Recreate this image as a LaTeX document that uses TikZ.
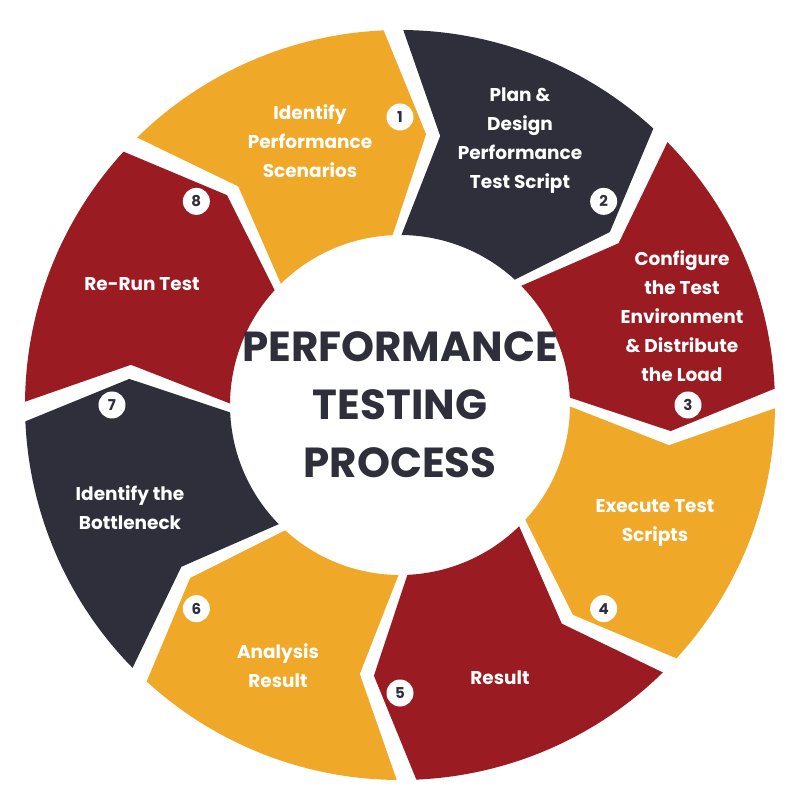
\documentclass[tikz,border=0pt]{standalone}
\usepackage{fontspec}
\setmainfont{Poppins}
\definecolor{cy}{HTML}{F0A829}
\definecolor{cd}{HTML}{2E2F3B}
\definecolor{cr}{HTML}{9B1B23}
\begin{document}
\begin{tikzpicture}[x=1pt,y=1pt,
  lbl/.style={text=white,font=\bfseries\fontsize{18.5}{29}\selectfont,align=center},
  num/.style={circle,fill=white,minimum size=27pt,inner sep=0pt,text=cd,font=\bfseries\fontsize{15}{15}\selectfont}]
\fill[white] (-400,-395) rectangle (400,405);
\useasboundingbox (-400,-395) rectangle (400,405);
\def\R{375}\def\r{170}\def\m{272}\def\g{1.5}\def\d{8}
\foreach \k/\c in {1/cy,2/cd,3/cr,4/cy,5/cr,6/cy,7/cd,8/cr}{
  \pgfmathsetmacro\b{136-45*(\k-1)}
  \pgfmathsetmacro\s{\b-\g}
  \pgfmathsetmacro\e{\b-45+\g}
  \pgfmathsetmacro\et{\e-\d}
  \pgfmathsetmacro\st{\s-\d}
  \fill[\c] (\s:\R pt) arc[start angle=\s,end angle=\e,radius=\R pt] -- (\et:\m pt) -- (\e:\r pt)
    arc[start angle=\e,end angle=\s,radius=\r pt] -- (\st:\m pt) -- cycle;
  \pgfmathsetmacro\na{\b-46}
  \node[num] (n\k) at (\na:288pt) {\k};
}
\node[lbl] (l1) at (-90,264) {Identify\\Performance\\Scenarios};
\node[lbl] (l2) at (120,264) {Plan \&\\Design\\Performance\\Test Script};
\node[lbl] (l3) at (282,89) {Configure\\the Test\\Environment\\\& Distribute\\the Load};
\node[lbl] (l4) at (255,-118) {Execute Test\\Scripts};
\node[lbl] (l5) at (100,-273) {Result};
\node[lbl] (l6) at (-122,-261) {Analysis\\Result};
\node[lbl] (l7) at (-270,-103) {Identify the\\Bottleneck};
\node[lbl] (l8) at (-258,121) {Re-Run Test};
\node[text=cd,font=\bfseries\fontsize{42}{58}\selectfont,align=center] (t) at (0,0) {PERFORMANCE\\TESTING\\PROCESS};
\end{tikzpicture}
\end{document}
